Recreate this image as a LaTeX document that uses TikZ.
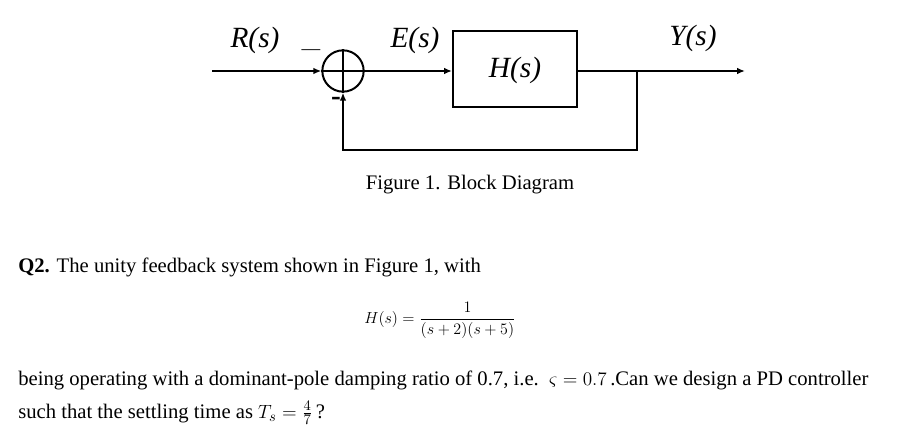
\documentclass[tikz,border=0pt]{standalone}
\usepackage{amsmath}
\usepackage{fontspec}
\setmainfont{Liberation Serif}
\usetikzlibrary{arrows.meta}
\begin{document}
\begin{tikzpicture}[x=0.75pt,y=-0.75pt,
  ln/.style={line width=1.5pt},
  arr/.style={ln,-{Latex[length=6pt,width=5pt]}},
  lab/.style={font=\fontsize{22}{24}\selectfont\itshape},
  txt/.style={font=\fontsize{15.5}{17}\selectfont,anchor=west,inner sep=0}]
\useasboundingbox (0,0) rectangle (914,442);
\node[draw,circle,ln,minimum size=31pt,inner sep=0] (sum) at (343,71) {};
\draw[ln] (sum.north) -- (sum.south) (sum.west) -- (sum.east);
\node[draw,ln,minimum width=93pt,minimum height=57pt] (H) at (515,69) {};
\node[lab] (Hl) at (515,70) {H(s)};
\coordinate (in) at (212,71);
\coordinate (out) at (745,71);
\coordinate (br) at (637,71);
\coordinate (fb) at (637,150);
\coordinate (fb2) at (343,150);
\draw[arr] (in) -- (sum.west);
\draw[arr] (sum.east) -- (H.west |- sum.east);
\draw[arr] (H.east |- sum.east) -- (out);
\draw[arr] (br) -- (fb) -- (fb2) -- (sum.south);
\node[lab] (R) at (255,40) {R(s)};
\node[lab] (E) at (415,40) {E(s)};
\node[lab] (Y) at (693,38) {Y(s)};
\node[font=\fontsize{14}{14}\selectfont] (m1) at (311,52) {---};
\node[font=\bfseries\fontsize{22}{22}\selectfont] (m2) at (336,101) {-};
\node[font=\fontsize{15.5}{17}\selectfont] (cap) at (470,185) {Figure 1. Block Diagram};
\node[txt] (q) at (18,267) {\textbf{Q2.} The unity feedback system shown in Figure 1, with};
\node[font=\fontsize{13}{15}\selectfont] (eq) at (440,320) {$H(s)=\dfrac{1}{(s+2)(s+5)}$};
\node[txt] (l1) at (18,380) {being operating with a dominant-pole damping ratio of 0.7, i.e.\ \ $\varsigma=0.7$\,.Can we design a PD controller};
\node[txt] (l2) at (18,413) {such that the settling time as $T_s=\frac{4}{7}$\,?};
\end{tikzpicture}
\end{document}
